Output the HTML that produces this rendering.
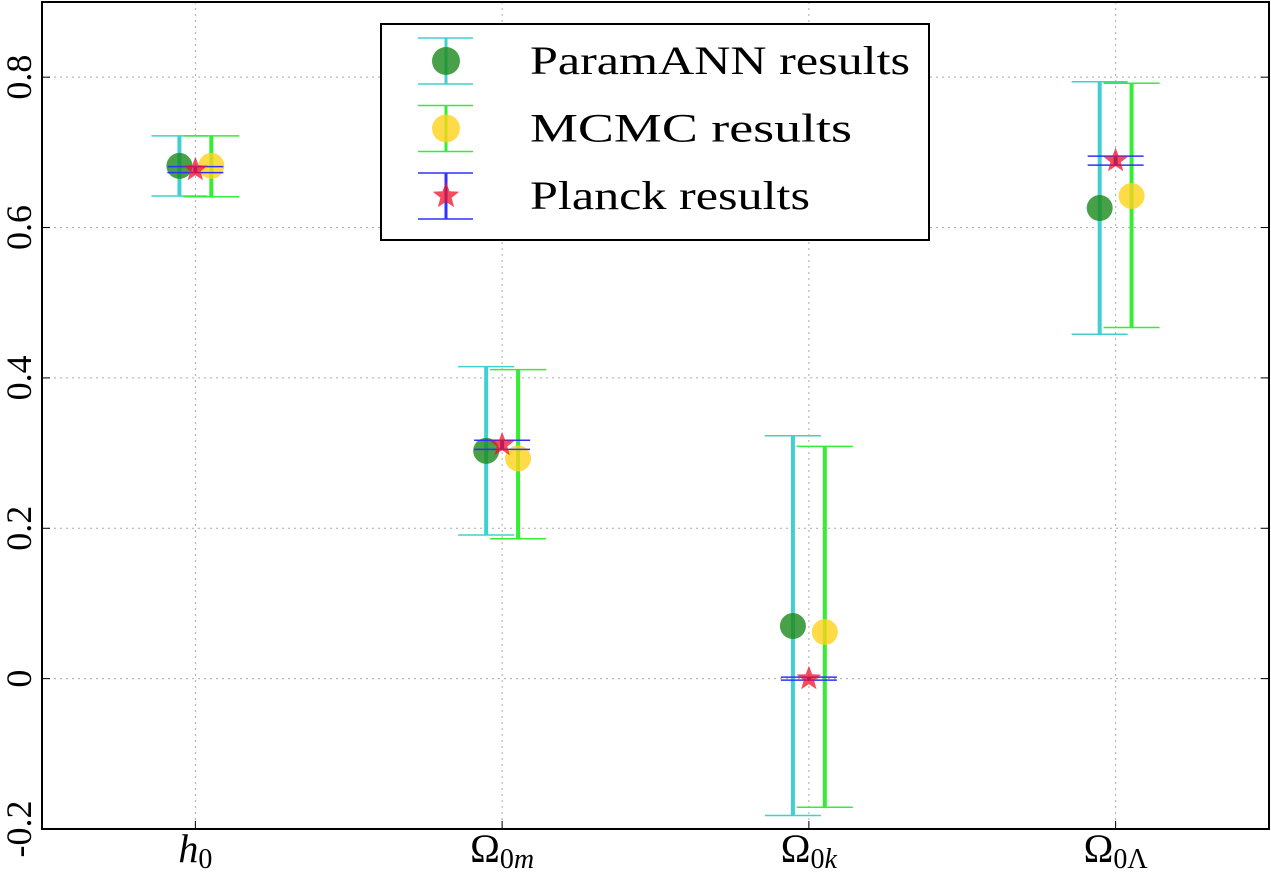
<!DOCTYPE html>
<html><head><meta charset="utf-8"><style>
body{margin:0;background:#fff}
svg{display:block;font-family:"Liberation Serif",serif}
</style></head><body>
<svg id="chart" width="1271" height="874" xmlns="http://www.w3.org/2000/svg"></svg>
<script>
const categories=["h","Ω","Ω","Ω"];
const catSubs=["0","0","0","0"];
const catSubs2=["","m","k","Λ"];
const annVals=[0.682,0.303,0.070,0.626];
const annLo=[0.642,0.191,-0.182,0.458];
const annHi=[0.722,0.415,0.323,0.794];
const mcmcVals=[0.682,0.293,0.062,0.642];
const mcmcLo=[0.641,0.186,-0.171,0.467];
const mcmcHi=[0.722,0.411,0.309,0.792];
const planckVals=[0.677,0.311,0.000,0.689];
const planckErr=[0.004,0.006,0.002,0.006];
const yTicks=[-0.2,0,0.2,0.4,0.6,0.8];
const yTickLabels=["-0.2","0","0.2","0.4","0.6","0.8"];

const L=42,R=1269,T=2,B=829;
const X=v=>L+(v+0.5)/4*(R-L);
const Y=v=>B-(v+0.2)/1.1*(B-T);
const svg=document.getElementById('chart');
const NS="http://www.w3.org/2000/svg";
function mk(tag,attrs,parent){const e=document.createElementNS(NS,tag);for(const k in attrs)e.setAttribute(k,attrs[k]);(parent||svg).appendChild(e);return e;}

yTicks.forEach((t,i)=>{
  const g=mk('line',{x1:L,x2:R,y1:Y(t),y2:Y(t),stroke:'#aaa','stroke-dasharray':'2,4','stroke-width':1});
  
  
  const tk=mk('line',{x1:L,x2:L+8,y1:Y(t),y2:Y(t),stroke:'#000'});
  
  
  const tk2=mk('line',{x1:R-8,x2:R,y1:Y(t),y2:Y(t),stroke:'#000'});
  
  
  const lb=mk('text',{x:0,y:0,'font-size':36,'text-anchor':'middle',transform:`translate(31,${Y(t)}) rotate(-90)`});
  lb.textContent=yTickLabels[i];
  
  
});
categories.forEach((c,i)=>{
  const gx=mk('line',{x1:X(i),x2:X(i),y1:T,y2:B,stroke:'#aaa','stroke-dasharray':'2,4'});
  
  
  const tk=mk('line',{x1:X(i),x2:X(i),y1:B-8,y2:B,stroke:'#000'});
  
  
  const tx=mk('text',{x:X(i),y:862,'font-size':40,'text-anchor':'middle'});
  
  
  const a=document.createElementNS(NS,'tspan');a.setAttribute('font-style',i===0?'italic':'normal');a.textContent=c;tx.appendChild(a);
  const s=document.createElementNS(NS,'tspan');s.setAttribute('font-size',28);s.setAttribute('dy',6);s.textContent=catSubs[i];tx.appendChild(s);
  if(catSubs2[i]){const s2=document.createElementNS(NS,'tspan');s2.setAttribute('font-size',28);s2.setAttribute('font-style',i<3?'italic':'normal');s2.textContent=catSubs2[i];tx.appendChild(s2);}
});

function errbar(x,lo,hi,color,w,name){
  const g=mk('g',{});
  
  
  mk('line',{x1:x,x2:x,y1:Y(lo),y2:Y(hi),stroke:color,'stroke-width':4},g);
  mk('line',{x1:x-w,x2:x+w,y1:Y(lo),y2:Y(lo),stroke:color,'stroke-width':1.5},g);
  mk('line',{x1:x-w,x2:x+w,y1:Y(hi),y2:Y(hi),stroke:color,'stroke-width':1.5},g);
}
function star(cx,cy,r,parent){
  let p=[];for(let k=0;k<10;k++){const a=-Math.PI/2+k*Math.PI/5;const rr=k%2?r*0.42:r;p.push((cx+rr*Math.cos(a)).toFixed(1)+','+(cy+rr*Math.sin(a)).toFixed(1));}
  return mk('polygon',{points:p.join(' '),fill:'#f0102a','fill-opacity':0.75},parent);
}
const off=0.052;
categories.forEach((c,i)=>{
  errbar(X(i-off),annLo[i],annHi[i],'#40d0d0',28,'paramann-errorbar');
  const a=mk('circle',{cx:X(i-off),cy:Y(annVals[i]),r:13,fill:'#1a8a1a','fill-opacity':0.8});
  
  
  errbar(X(i+off),mcmcLo[i],mcmcHi[i],'#33ee33',28,'mcmc-errorbar');
  const m=mk('circle',{cx:X(i+off),cy:Y(mcmcVals[i]),r:13,fill:'#ffd21a','fill-opacity':0.8});
  
  
  errbar(X(i),planckVals[i]-planckErr[i],planckVals[i]+planckErr[i],'#3030ff',28,'planck-errorbar');
  const s=star(X(i),Y(planckVals[i]),13);
  
  
});
const frame=mk('rect',{x:L,y:T,width:R-L,height:B-T,fill:'none',stroke:'#000','stroke-width':2});



const lg=mk('g',{});


mk('rect',{x:381,y:24,width:548,height:216,fill:'#fff',stroke:'#000','stroke-width':2},lg);
const entries=[["ParamANN results",'#40d0d0','ann',380],["MCMC results",'#33ee33','mcmc',322],["Planck results",'#3030ff','planck',280]];
entries.forEach((e,k)=>{
  const cy=61+k*67.5;
  const g=mk('g',{},lg);
  
  
  mk('line',{x1:446,x2:446,y1:cy-23,y2:cy+23,stroke:e[1],'stroke-width':3},g);
  mk('line',{x1:418,x2:473,y1:cy-23,y2:cy-23,stroke:e[1],'stroke-width':1.5},g);
  mk('line',{x1:418,x2:473,y1:cy+23,y2:cy+23,stroke:e[1],'stroke-width':1.5},g);
  if(e[2]==='ann')mk('circle',{cx:446,cy:cy,r:14,fill:'#1a8a1a','fill-opacity':0.8},g);
  else if(e[2]==='mcmc')mk('circle',{cx:446,cy:cy,r:14,fill:'#ffd21a','fill-opacity':0.8},g);
  else star(446,cy,14,g);
  const t=mk('text',{x:530,y:cy+13,'font-size':40,textLength:e[3],lengthAdjust:'spacingAndGlyphs'},g);
  t.textContent=e[0];
});
</script>
</body></html>
